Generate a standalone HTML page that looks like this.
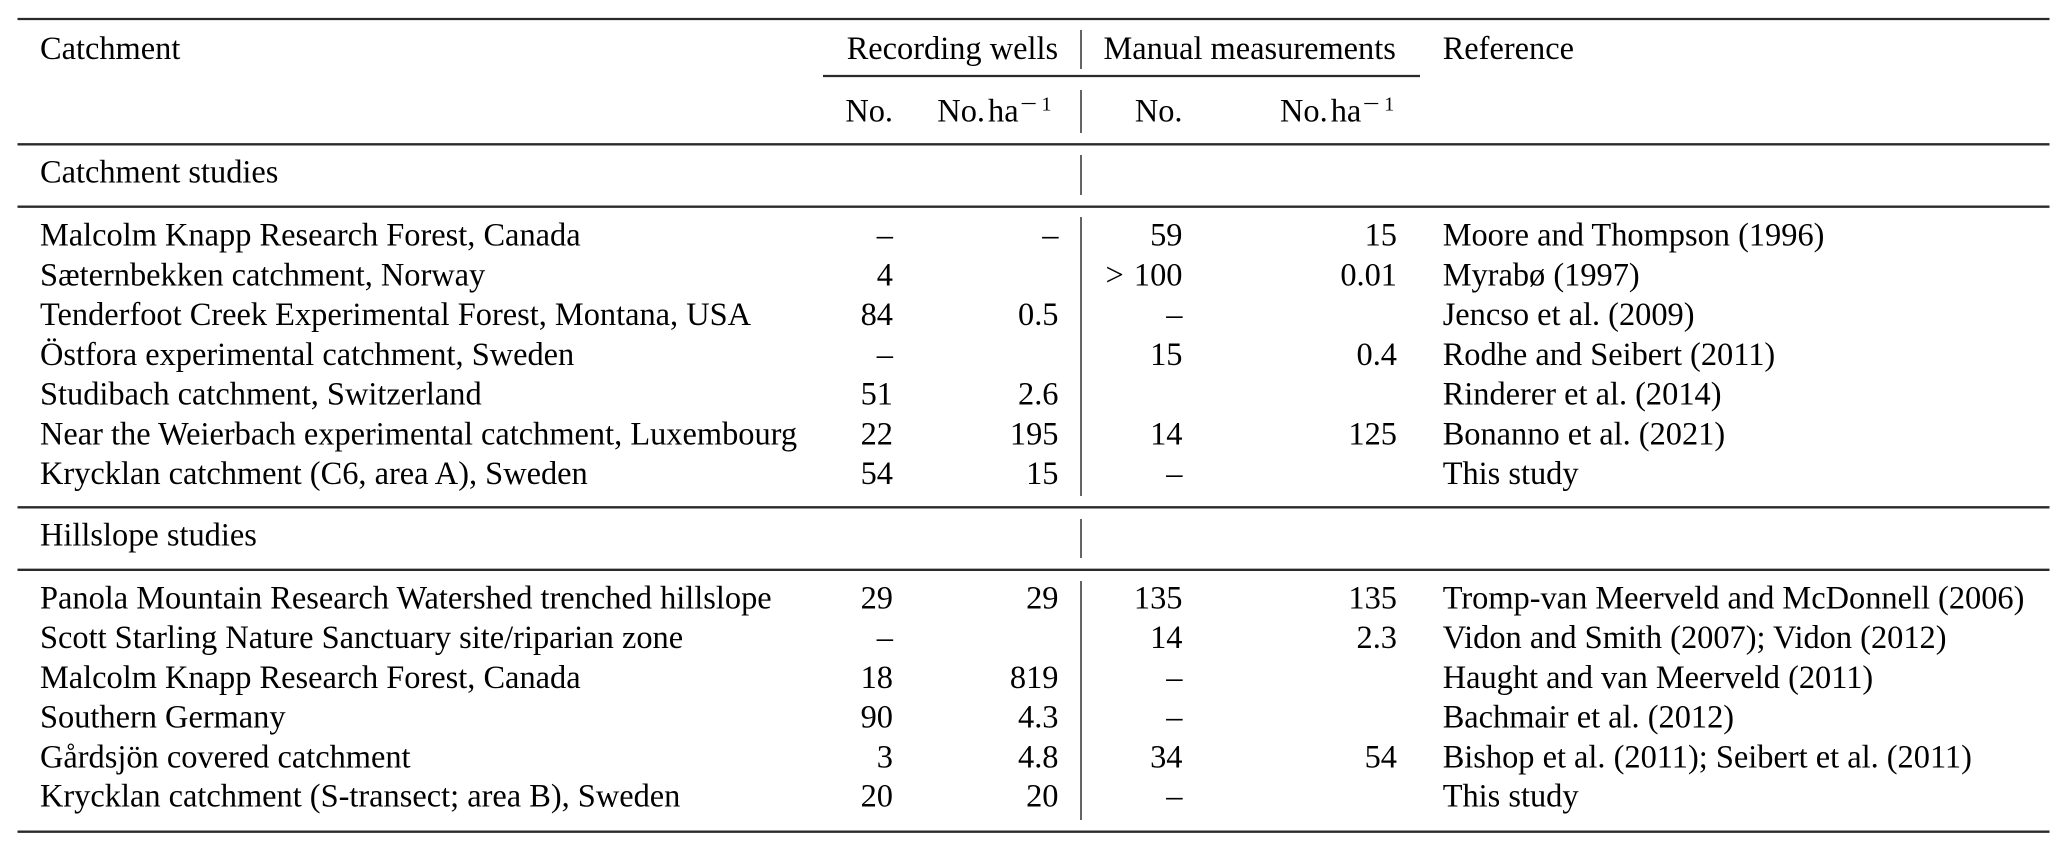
<!DOCTYPE html>
<html>
<head>
<meta charset="utf-8">
<style>
  html, body { margin: 0; padding: 0; background: #fff; }
  svg { display: block; }
  text { font-family: "Liberation Serif", "Times New Roman", serif; font-size: 32.4px; fill: #000; }
  .r { text-anchor: end; }
  .sup { font-size: 20px; }
  .min { font-size: 24px; }
</style>
</head>
<body>
<svg width="2067" height="851" viewBox="0 0 2067 851" xmlns="http://www.w3.org/2000/svg">
  <rect width="2067" height="851" fill="#fff"/>
  <!-- horizontal rules -->
  <g stroke="#2a2a2a" stroke-width="2.3">
    <line x1="17.5" y1="19" x2="2049.5" y2="19"/>
    <line x1="823" y1="76" x2="1420" y2="76"/>
    <line x1="17.5" y1="144.3" x2="2049.5" y2="144.3"/>
    <line x1="17.5" y1="206.7" x2="2049.5" y2="206.7"/>
    <line x1="17.5" y1="507.3" x2="2049.5" y2="507.3"/>
    <line x1="17.5" y1="569.8" x2="2049.5" y2="569.8"/>
    <line x1="17.5" y1="831.7" x2="2049.5" y2="831.7"/>
  </g>
  <!-- vertical separator -->
  <g stroke="#222" stroke-width="1.4">
    <line x1="1081" y1="30" x2="1081" y2="69"/>
    <line x1="1081" y1="90" x2="1081" y2="133"/>
    <line x1="1081" y1="155" x2="1081" y2="195"/>
    <line x1="1081" y1="217" x2="1081" y2="496"/>
    <line x1="1081" y1="519" x2="1081" y2="558"/>
    <line x1="1081" y1="581" x2="1081" y2="820"/>
  </g>

  <!-- header row 1 -->
  <text x="40" y="59">Catchment</text>
  <text x="846.7" y="59">Recording wells</text>
  <text x="1103.5" y="59">Manual measurements</text>
  <text x="1442.7" y="59">Reference</text>

  <!-- header row 2 -->
  <text x="893" y="121.5" class="r">No.</text>
  <text x="937.3" y="121.5">No.</text>
  <text x="988" y="121.5">ha</text>
  <text x="1020" y="111.5" class="min" textLength="17" lengthAdjust="spacingAndGlyphs">−</text>
  <text x="1041.5" y="110.7" class="sup">1</text>

  <text x="1182.5" y="121.5" class="r">No.</text>
  <text x="1280" y="121.5">No.</text>
  <text x="1330.7" y="121.5">ha</text>
  <text x="1362.7" y="111.5" class="min" textLength="17" lengthAdjust="spacingAndGlyphs">−</text>
  <text x="1384.2" y="110.7" class="sup">1</text>

  <!-- Catchment studies -->
  <text x="40" y="182.7">Catchment studies</text>

  <text x="40" y="245.5">Malcolm Knapp Research Forest, Canada</text>
  <text x="893" y="245.5" class="r">–</text>
  <text x="1058.5" y="245.5" class="r">–</text>
  <text x="1182.5" y="245.5" class="r">59</text>
  <text x="1397" y="245.5" class="r">15</text>
  <text x="1442.7" y="245.5">Moore and Thompson (1996)</text>

  <text x="40" y="285.25">Sæternbekken catchment, Norway</text>
  <text x="893" y="285.25" class="r">4</text>
  <text x="1105.5" y="285.25">&gt;</text>
  <text x="1182.5" y="285.25" class="r">100</text>
  <text x="1397" y="285.25" class="r">0.01</text>
  <text x="1442.7" y="285.25">Myrabø (1997)</text>

  <text x="40" y="325">Tenderfoot Creek Experimental Forest, Montana, USA</text>
  <text x="893" y="325" class="r">84</text>
  <text x="1058.5" y="325" class="r">0.5</text>
  <text x="1182.5" y="325" class="r">–</text>
  <text x="1442.7" y="325">Jencso et al. (2009)</text>

  <text x="40" y="364.75">Östfora experimental catchment, Sweden</text>
  <text x="893" y="364.75" class="r">–</text>
  <text x="1182.5" y="364.75" class="r">15</text>
  <text x="1397" y="364.75" class="r">0.4</text>
  <text x="1442.7" y="364.75">Rodhe and Seibert (2011)</text>

  <text x="40" y="404.5">Studibach catchment, Switzerland</text>
  <text x="893" y="404.5" class="r">51</text>
  <text x="1058.5" y="404.5" class="r">2.6</text>
  <text x="1442.7" y="404.5">Rinderer et al. (2014)</text>

  <text x="40" y="444.25">Near the Weierbach experimental catchment, Luxembourg</text>
  <text x="893" y="444.25" class="r">22</text>
  <text x="1058.5" y="444.25" class="r">195</text>
  <text x="1182.5" y="444.25" class="r">14</text>
  <text x="1397" y="444.25" class="r">125</text>
  <text x="1442.7" y="444.25">Bonanno et al. (2021)</text>

  <text x="40" y="484">Krycklan catchment (C6, area A), Sweden</text>
  <text x="893" y="484" class="r">54</text>
  <text x="1058.5" y="484" class="r">15</text>
  <text x="1182.5" y="484" class="r">–</text>
  <text x="1442.7" y="484">This study</text>

  <!-- Hillslope studies -->
  <text x="40" y="545.7">Hillslope studies</text>

  <text x="40" y="608.3">Panola Mountain Research Watershed trenched hillslope</text>
  <text x="893" y="608.3" class="r">29</text>
  <text x="1058.5" y="608.3" class="r">29</text>
  <text x="1182.5" y="608.3" class="r">135</text>
  <text x="1397" y="608.3" class="r">135</text>
  <text x="1442.7" y="608.3">Tromp-van Meerveld and McDonnell (2006)</text>

  <text x="40" y="648.05">Scott Starling Nature Sanctuary site/riparian zone</text>
  <text x="893" y="648.05" class="r">–</text>
  <text x="1182.5" y="648.05" class="r">14</text>
  <text x="1397" y="648.05" class="r">2.3</text>
  <text x="1442.7" y="648.05">Vidon and Smith (2007); Vidon (2012)</text>

  <text x="40" y="687.8">Malcolm Knapp Research Forest, Canada</text>
  <text x="893" y="687.8" class="r">18</text>
  <text x="1058.5" y="687.8" class="r">819</text>
  <text x="1182.5" y="687.8" class="r">–</text>
  <text x="1442.7" y="687.8">Haught and van Meerveld (2011)</text>

  <text x="40" y="727.5">Southern Germany</text>
  <text x="893" y="727.5" class="r">90</text>
  <text x="1058.5" y="727.5" class="r">4.3</text>
  <text x="1182.5" y="727.5" class="r">–</text>
  <text x="1442.7" y="727.5">Bachmair et al. (2012)</text>

  <text x="40" y="767.3">Gårdsjön covered catchment</text>
  <text x="893" y="767.3" class="r">3</text>
  <text x="1058.5" y="767.3" class="r">4.8</text>
  <text x="1182.5" y="767.3" class="r">34</text>
  <text x="1397" y="767.3" class="r">54</text>
  <text x="1442.7" y="767.3">Bishop et al. (2011); Seibert et al. (2011)</text>

  <text x="40" y="806.5">Krycklan catchment (S-transect; area B), Sweden</text>
  <text x="893" y="806.5" class="r">20</text>
  <text x="1058.5" y="806.5" class="r">20</text>
  <text x="1182.5" y="806.5" class="r">–</text>
  <text x="1442.7" y="806.5">This study</text>
</svg>
</body>
</html>
